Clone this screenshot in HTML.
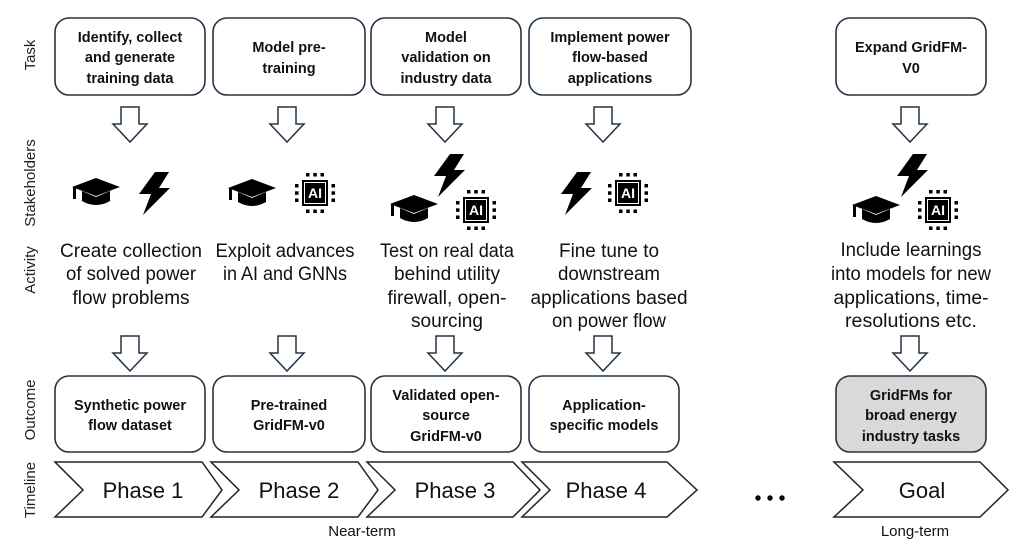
<!DOCTYPE html>
<html><head><meta charset="utf-8"><style>
html,body{margin:0;padding:0;background:#fff;}
svg{display:block;}
.bx{fill:#fff;stroke:#243444;stroke-width:1.6;}
.bt{font-family:"Liberation Sans",sans-serif;font-weight:bold;font-size:14.5px;fill:#111;text-anchor:middle;}
.at{font-family:"Liberation Sans",sans-serif;font-size:19px;fill:#111;text-anchor:middle;}
.rl{font-family:"Liberation Sans",sans-serif;font-size:15px;fill:#222;text-anchor:middle;}
.ph{font-family:"Liberation Sans",sans-serif;font-size:22px;fill:#111;text-anchor:middle;}
.ar{fill:#fff;stroke:#243444;stroke-width:1.5;stroke-linejoin:miter;}
.ch{fill:#fff;stroke:#222;stroke-width:1.5;}
</style></head><body>
<svg width="1024" height="552" viewBox="0 0 1024 552" xmlns="http://www.w3.org/2000/svg">
<defs>
<g id="cap">
<polygon points="0,9 24,0 48,9 24,18" fill="#000"/>
<rect x="1" y="9" width="3" height="12" fill="#000"/>
<path d="M10,13 L24,19 L38,13 L38,23 Q24,31 10,23 Z" fill="#000"/>
</g>
<g id="bolt">
<polygon points="17,0 31,0 21,16 32,16 5,43 13,22 1,22" fill="#000"/>
</g>
<g id="chip">
<rect x="7" y="7" width="26" height="26" fill="#000"/>
<rect x="9.5" y="9.5" width="21" height="21" fill="none" stroke="#fff" stroke-width="1"/>
<g fill="#000">
<rect x="11" y="0" width="3.5" height="3.5"/><rect x="18.3" y="0" width="3.5" height="3.5"/><rect x="25.5" y="0" width="3.5" height="3.5"/>
<rect x="11" y="36.5" width="3.5" height="3.5"/><rect x="18.3" y="36.5" width="3.5" height="3.5"/><rect x="25.5" y="36.5" width="3.5" height="3.5"/>
<rect x="0" y="11" width="3.5" height="3.5"/><rect x="0" y="18.3" width="3.5" height="3.5"/><rect x="0" y="25.5" width="3.5" height="3.5"/>
<rect x="36.5" y="11" width="3.5" height="3.5"/><rect x="36.5" y="18.3" width="3.5" height="3.5"/><rect x="36.5" y="25.5" width="3.5" height="3.5"/>
</g>
</g>
</defs>

<text class="rl" transform="translate(35,55) rotate(-90)">Task</text>
<text class="rl" transform="translate(35,183) rotate(-90)">Stakeholders</text>
<text class="rl" transform="translate(35,270) rotate(-90)">Activity</text>
<text class="rl" transform="translate(35,410) rotate(-90)">Outcome</text>
<text class="rl" transform="translate(35,490) rotate(-90)">Timeline</text>

<rect class="bx" x="55" y="18" width="150" height="77" rx="14"/>
<rect class="bx" x="213" y="18" width="152" height="77" rx="14"/>
<rect class="bx" x="371" y="18" width="150" height="77" rx="14"/>
<rect class="bx" x="529" y="18" width="162" height="77" rx="14"/>
<rect class="bx" x="836" y="18" width="150" height="77" rx="14"/>

<text class="bt" x="130" y="42">Identify, collect</text>
<text class="bt" x="130" y="62">and generate</text>
<text class="bt" x="130" y="83">training data</text>
<text class="bt" x="289" y="52">Model pre-</text>
<text class="bt" x="289" y="73">training</text>
<text class="bt" x="446" y="42">Model</text>
<text class="bt" x="446" y="62">validation on</text>
<text class="bt" x="446" y="83">industry data</text>
<text class="bt" x="610" y="42">Implement power</text>
<text class="bt" x="610" y="62">flow-based</text>
<text class="bt" x="610" y="83">applications</text>
<text class="bt" x="911" y="52">Expand GridFM-</text>
<text class="bt" x="911" y="73">V0</text>

<g class="ar">
<polygon points="121,107 139,107 139,124 147,124 130,142 113,124 121,124"/>
<polygon points="278,107 296,107 296,124 304,124 287,142 270,124 278,124"/>
<polygon points="436,107 454,107 454,124 462,124 445,142 428,124 436,124"/>
<polygon points="594,107 612,107 612,124 620,124 603,142 586,124 594,124"/>
<polygon points="901,107 919,107 919,124 927,124 910,142 893,124 901,124"/>
</g>

<use href="#cap" x="72" y="178"/>
<use href="#bolt" x="138" y="172"/>
<use href="#cap" x="228" y="179"/>
<use href="#chip" x="295" y="173"/>
<use href="#bolt" x="433" y="154"/>
<use href="#cap" x="390" y="195"/>
<use href="#chip" x="456" y="190"/>
<use href="#bolt" x="560" y="172"/>
<use href="#chip" x="608" y="173"/>
<use href="#bolt" x="896" y="154"/>
<use href="#cap" x="852" y="196"/>
<use href="#chip" x="918" y="190"/>
<g font-family="Liberation Sans,sans-serif" font-weight="bold" font-size="14" fill="#fff" text-anchor="middle">
<text x="315" y="198">AI</text>
<text x="476" y="215">AI</text>
<text x="628" y="198">AI</text>
<text x="938" y="215">AI</text>
</g>

<text class="at" x="131" y="257" textLength="142" lengthAdjust="spacingAndGlyphs">Create collection</text>
<text class="at" x="131" y="280" textLength="130" lengthAdjust="spacingAndGlyphs">of solved power</text>
<text class="at" x="131" y="304" textLength="117" lengthAdjust="spacingAndGlyphs">flow problems</text>
<text class="at" x="285" y="257" textLength="139" lengthAdjust="spacingAndGlyphs">Exploit advances</text>
<text class="at" x="285" y="280" textLength="124" lengthAdjust="spacingAndGlyphs">in AI and GNNs</text>
<text class="at" x="447" y="257" textLength="134" lengthAdjust="spacingAndGlyphs">Test on real data</text>
<text class="at" x="447" y="280" textLength="106" lengthAdjust="spacingAndGlyphs">behind utility</text>
<text class="at" x="447" y="304" textLength="119" lengthAdjust="spacingAndGlyphs">firewall, open-</text>
<text class="at" x="447" y="327" textLength="72" lengthAdjust="spacingAndGlyphs">sourcing</text>
<text class="at" x="609" y="257" textLength="100" lengthAdjust="spacingAndGlyphs">Fine tune to</text>
<text class="at" x="609" y="280" textLength="102" lengthAdjust="spacingAndGlyphs">downstream</text>
<text class="at" x="609" y="304" textLength="157" lengthAdjust="spacingAndGlyphs">applications based</text>
<text class="at" x="609" y="327" textLength="114" lengthAdjust="spacingAndGlyphs">on power flow</text>
<text class="at" x="911" y="256" textLength="141" lengthAdjust="spacingAndGlyphs">Include learnings</text>
<text class="at" x="911" y="280" textLength="160" lengthAdjust="spacingAndGlyphs">into models for new</text>
<text class="at" x="911" y="304" textLength="155" lengthAdjust="spacingAndGlyphs">applications, time-</text>
<text class="at" x="911" y="327" textLength="132" lengthAdjust="spacingAndGlyphs">resolutions etc.</text>

<g class="ar">
<polygon points="121,336 139,336 139,353 147,353 130,371 113,353 121,353"/>
<polygon points="278,336 296,336 296,353 304,353 287,371 270,353 278,353"/>
<polygon points="436,336 454,336 454,353 462,353 445,371 428,353 436,353"/>
<polygon points="594,336 612,336 612,353 620,353 603,371 586,353 594,353"/>
<polygon points="901,336 919,336 919,353 927,353 910,371 893,353 901,353"/>
</g>

<rect class="bx" x="55" y="376" width="150" height="76" rx="14"/>
<rect class="bx" x="213" y="376" width="152" height="76" rx="14"/>
<rect class="bx" x="371" y="376" width="150" height="76" rx="14"/>
<rect class="bx" x="529" y="376" width="150" height="76" rx="14"/>
<rect class="bx" x="836" y="376" width="150" height="76" rx="14" style="fill:#d9d9d9"/>

<text class="bt" x="130" y="410">Synthetic power</text>
<text class="bt" x="130" y="430">flow dataset</text>
<text class="bt" x="289" y="410">Pre-trained</text>
<text class="bt" x="289" y="430">GridFM-v0</text>
<text class="bt" x="446" y="400">Validated open-</text>
<text class="bt" x="446" y="420">source</text>
<text class="bt" x="446" y="441">GridFM-v0</text>
<text class="bt" x="604" y="410">Application-</text>
<text class="bt" x="604" y="430">specific models</text>
<text class="bt" x="911" y="400">GridFMs for</text>
<text class="bt" x="911" y="420">broad energy</text>
<text class="bt" x="911" y="441">industry tasks</text>

<polygon class="ch" points="55,462 202,462 222,490 202,517 55,517 83,490"/>
<polygon class="ch" points="211,462 358,462 378,490 358,517 211,517 239,490"/>
<polygon class="ch" points="367,462 513,462 540,490 513,517 367,517 395,490"/>
<polygon class="ch" points="522,462 667,462 697,490 667,517 522,517 550,490"/>
<polygon class="ch" points="834,462 980,462 1008,490 980,517 834,517 863,490"/>
<text class="ph" x="143" y="498">Phase 1</text>
<text class="ph" x="299" y="498">Phase 2</text>
<text class="ph" x="455" y="498">Phase 3</text>
<text class="ph" x="606" y="498">Phase 4</text>
<text class="ph" x="922" y="498">Goal</text>

<circle cx="758" cy="498" r="2.7" fill="#000"/>
<circle cx="770" cy="498" r="2.7" fill="#000"/>
<circle cx="782" cy="498" r="2.7" fill="#000"/>

<text class="rl" x="362" y="536" style="fill:#111">Near-term</text>
<text class="rl" x="915" y="536" style="fill:#111">Long-term</text>
</svg>
</body></html>
